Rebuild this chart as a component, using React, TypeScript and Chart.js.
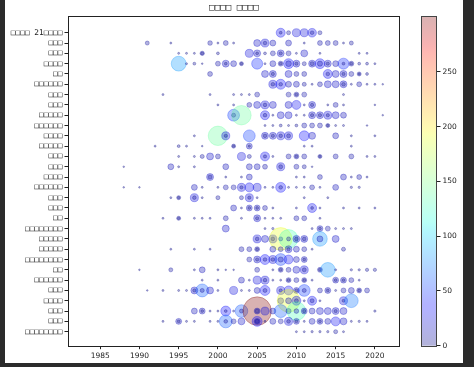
import { useEffect, useRef } from "react";
import { Chart, registerables } from "chart.js";
Chart.register(...registerables);

const chartTitle = "□□□□ □□□□";
const rowLabels = [
  "□□□□ 21□□□□", "□□□", "□□□", "□□□□", "□□", "□□□□□□", "□□□", "□□□", "□□□□□", "□□□□□□",
  "□□□□", "□□□□□", "□□□", "□□□", "□□□□", "□□□□□□", "□□□", "□□□", "□□", "□□□□□□□□",
  "□□□□□", "□□□□□", "□□□□□□□□", "□□", "□□□□□□", "□□□", "□□□□", "□□□", "□□□", "□□□□□□□□",
];
const xTickYears = [1985, 1990, 1995, 2000, 2005, 2010, 2015, 2020];
const colorbarTicks = [0, 50, 100, 150, 200, 250];
const colorMax = 301;

// [year, value] per row (top to bottom)
const row00 = [[2008, 30], [2008, 3], [2009, 6], [2010, 24], [2011, 24], [2012, 28], [2012, 5], [2013, 6]];
const row01 = [[1991, 6], [1994, 1.5], [1999, 8], [2000, 1.5], [2001, 9], [2002, 1.5], [2005, 18], [2006, 24], [2006, 5], [2007, 13], [2009, 13], [2011, 1.5], [2013, 9], [2014, 9], [2015, 9], [2016, 1.5], [2017, 6]];
const row02 = [[1995, 1.5], [1996, 1.5], [1997, 1.5], [1998, 7], [1998, 3], [2000, 3], [2004, 24], [2005, 18], [2005, 3], [2006, 3], [2007, 9], [2008, 18], [2008, 4], [2009, 9], [2010, 1.5], [2011, 18], [2013, 1.5], [2018, 1.5], [2019, 1.5]];
const row03 = [[1995, 82], [1996, 1.5], [1997, 3], [1998, 1], [2000, 9], [2001, 18], [2001, 3], [2002, 13], [2003, 6], [2003, 2], [2005, 45], [2006, 1.5], [2007, 13], [2008, 9], [2008, 3], [2009, 37], [2009, 12], [2010, 18], [2010, 4], [2011, 6], [2012, 18], [2012, 6], [2013, 37], [2013, 10], [2014, 18], [2014, 4], [2015, 13], [2016, 45], [2016, 3], [2017, 9], [2017, 3], [2018, 3], [2019, 3], [2020, 1.5]];
const row04 = [[1999, 9], [2006, 18], [2007, 18], [2007, 4], [2009, 18], [2010, 9], [2011, 9], [2014, 30], [2014, 5], [2015, 18], [2016, 18], [2016, 4], [2017, 9], [2018, 6], [2018, 2], [2019, 3]];
const row05 = [[2007, 24], [2007, 5], [2008, 37], [2008, 5], [2009, 13], [2010, 13], [2011, 6], [2012, 1.5], [2013, 9], [2014, 18], [2015, 18], [2016, 18], [2016, 5], [2017, 1.5], [2018, 9], [2019, 1.5], [2020, 1.5], [2021, 1]];
const row06 = [[1993, 1.5], [1999, 1.5], [2002, 1.5], [2003, 1.5], [2004, 1.5], [2005, 9], [2009, 9], [2010, 9], [2010, 3], [2011, 9], [2016, 1.5]];
const row07 = [[2000, 1.5], [2002, 1.5], [2004, 9], [2005, 18], [2006, 24], [2006, 5], [2007, 18], [2009, 18], [2010, 30], [2011, 1.5], [2012, 18], [2012, 4], [2014, 1.5], [2015, 9], [2016, 1.5], [2020, 1]];
const row08 = [[2002, 52], [2002, 6], [2003, 140], [2006, 30], [2006, 5], [2007, 1.5], [2008, 18], [2009, 18], [2010, 1.5], [2011, 1.5], [2012, 18], [2012, 4], [2013, 18], [2013, 4], [2014, 24], [2014, 4], [2015, 18], [2016, 13], [2021, 1]];
const row09 = [[2006, 1.5], [2007, 1.5], [2008, 3], [2009, 1.5], [2010, 3], [2011, 9], [2012, 9], [2013, 9], [2014, 6], [2014, 2], [2015, 1.5], [2016, 1.5], [2019, 1]];
const row10 = [[1997, 1.5], [2000, 140], [2001, 24], [2001, 4], [2004, 52], [2006, 18], [2006, 5], [2007, 18], [2007, 4], [2008, 24], [2008, 5], [2009, 24], [2009, 6], [2011, 37], [2012, 18], [2015, 13], [2017, 1.5], [2020, 1.5]];
const row11 = [[1992, 1.5], [1995, 3], [1996, 1.5], [1998, 1], [2002, 6], [2002, 2], [2004, 13], [2004, 2], [2011, 1.5], [2012, 1.5], [2017, 1.5]];
const row12 = [[1995, 1.5], [1997, 1.5], [1998, 6], [1999, 18], [2000, 9], [2003, 24], [2004, 6], [2006, 30], [2006, 4], [2007, 1.5], [2009, 9], [2010, 9], [2010, 3], [2011, 9], [2013, 6], [2013, 2], [2015, 9], [2017, 9], [2019, 1.5], [2020, 1.5]];
const row13 = [[1988, 1], [1994, 13], [1995, 1.5], [1997, 1.5], [2001, 13], [2004, 13], [2005, 13], [2006, 9], [2008, 24], [2008, 6], [2010, 9], [2011, 6], [2012, 1]];
const row14 = [[1999, 18], [1999, 6], [2001, 1.5], [2003, 1.5], [2004, 13], [2010, 1.5], [2011, 1.5], [2013, 9], [2016, 13], [2017, 1.5], [2018, 9], [2019, 1.5]];
const row15 = [[1988, 1], [1990, 1], [1997, 13], [1998, 1.5], [2000, 1.5], [2001, 9], [2002, 9], [2003, 24], [2003, 4], [2004, 30], [2005, 24], [2006, 1.5], [2007, 1.5], [2008, 37], [2008, 5], [2009, 1.5], [2010, 1.5], [2011, 1.5], [2012, 9], [2013, 1.5], [2015, 13], [2017, 2], [2018, 2]];
const row16 = [[1994, 1.5], [1995, 6], [1995, 2], [1997, 24], [1997, 5], [1998, 1.5], [2000, 6], [2003, 6], [2004, 24], [2004, 4], [2005, 1.5], [2011, 1.5], [2014, 1.5]];
const row17 = [[2002, 13], [2003, 1.5], [2004, 13], [2004, 3], [2005, 13], [2005, 3], [2006, 9], [2007, 1.5], [2010, 1.5], [2012, 30], [2012, 3], [2013, 1.5], [2016, 1.5], [2018, 1.5], [2020, 1.5]];
const row18 = [[1993, 1.5], [1995, 6], [1995, 2], [1997, 1.5], [1998, 1.5], [1999, 1.5], [2001, 9], [2003, 1.5], [2005, 18], [2005, 4], [2006, 1.5], [2007, 1.5], [2008, 1.5], [2010, 9], [2011, 9], [2013, 1.5]];
const row19 = [[2001, 18], [2006, 1.5], [2007, 2], [2012, 1.5], [2013, 13], [2013, 3], [2014, 9], [2015, 1.5], [2016, 1.5], [2017, 1.5]];
const row20 = [[2005, 24], [2005, 5], [2006, 18], [2007, 24], [2007, 5], [2008, 190], [2008, 6], [2009, 130], [2009, 6], [2010, 18], [2010, 5], [2011, 18], [2011, 5], [2013, 80], [2013, 13], [2015, 18]];
const row21 = [[1994, 1.5], [1997, 1.5], [1999, 1.5], [2003, 9], [2004, 9], [2005, 9], [2005, 3], [2007, 13], [2008, 9], [2009, 18], [2009, 4], [2010, 13], [2011, 9], [2012, 1.5], [2016, 6]];
const row22 = [[2004, 9], [2005, 18], [2005, 4], [2006, 37], [2006, 5], [2007, 24], [2007, 5], [2008, 52], [2008, 10], [2009, 30], [2010, 13], [2011, 13], [2011, 3]];
const row23 = [[1990, 1], [1994, 6], [1997, 1.5], [1998, 13], [2000, 1.5], [2001, 1], [2002, 1], [2005, 9], [2007, 1.5], [2008, 9], [2008, 3], [2009, 9], [2010, 18], [2011, 24], [2011, 6], [2013, 9], [2013, 3], [2014, 80], [2015, 1.5], [2017, 2], [2018, 2], [2019, 4], [2020, 4]];
const row24 = [[1998, 1.5], [2000, 1.5], [2003, 13], [2004, 1.5], [2005, 24], [2006, 24], [2006, 5], [2007, 1.5], [2008, 1.5], [2009, 9], [2009, 3], [2010, 9], [2011, 9], [2011, 3], [2012, 1.5], [2015, 13], [2015, 3], [2016, 13], [2016, 3], [2017, 9], [2018, 1.5]];
const row25 = [[1991, 1], [1993, 1.5], [1995, 1.5], [1996, 1.5], [1997, 18], [1997, 4], [1998, 62], [1998, 6], [1999, 18], [2000, 1.5], [2002, 24], [2003, 1.5], [2004, 1.5], [2005, 13], [2006, 37], [2006, 6], [2008, 24], [2008, 4], [2009, 30], [2010, 13], [2010, 4], [2011, 52], [2011, 6], [2013, 9], [2014, 13], [2014, 3], [2015, 1.5], [2016, 9], [2017, 13], [2018, 9], [2018, 3], [2019, 9]];
const row26 = [[2008, 13], [2009, 190], [2009, 13], [2010, 30], [2010, 6], [2011, 1.5], [2012, 30], [2012, 6], [2013, 1.5], [2016, 24], [2016, 3], [2017, 70]];
const row27 = [[1997, 13], [1998, 13], [1998, 3], [1999, 1.5], [2000, 1.5], [2001, 37], [2001, 3], [2002, 1.5], [2003, 60], [2003, 6], [2005, 301], [2005, 13], [2005, 6], [2006, 24], [2007, 13], [2008, 62], [2009, 10], [2010, 130], [2010, 8], [2011, 13], [2011, 4], [2012, 13], [2013, 18], [2014, 18], [2015, 18], [2015, 4], [2016, 18], [2020, 2]];
const row28 = [[1993, 1.5], [1995, 13], [1995, 3], [1996, 1.5], [1997, 1.5], [1999, 1.5], [2000, 1.5], [2001, 62], [2001, 5], [2002, 9], [2003, 18], [2005, 37], [2005, 13], [2005, 6], [2006, 1.5], [2007, 13], [2008, 9], [2009, 24], [2009, 5], [2010, 13], [2010, 3], [2011, 1.5], [2012, 13], [2013, 13], [2013, 3], [2014, 13], [2015, 30], [2016, 18], [2017, 1.5], [2018, 2], [2019, 1.5]];
const row29 = [[2010, 1.5], [2011, 1.5], [2012, 2], [2013, 2], [2014, 2], [2015, 6], [2016, 1.5]];

const rowPoints = [
  row00, row01, row02, row03, row04, row05, row06, row07, row08, row09,
  row10, row11, row12, row13, row14, row15, row16, row17, row18, row19,
  row20, row21, row22, row23, row24, row25, row26, row27, row28, row29,
];

const JET = {
  r: [[0, 0], [0.35, 0], [0.66, 1], [0.89, 1], [1, 0.5]],
  g: [[0, 0], [0.125, 0], [0.375, 1], [0.64, 1], [0.91, 0], [1, 0]],
  b: [[0, 0.5], [0.11, 1], [0.34, 1], [0.65, 0], [1, 0]],
};
function interp(seg: number[][], t: number) {
  for (let i = 1; i < seg.length; i++) {
    if (t <= seg[i][0]) {
      const [x0, y0] = seg[i - 1];
      const [x1, y1] = seg[i];
      return y0 + ((t - x0) / (x1 - x0)) * (y1 - y0);
    }
  }
  return seg[seg.length - 1][1];
}
function jet(v: number, a: number) {
  const t = Math.max(0, Math.min(1, v / colorMax));
  const r = Math.round(interp(JET.r, t) * 255);
  const g = Math.round(interp(JET.g, t) * 255);
  const b = Math.round(interp(JET.b, t) * 255);
  return `rgba(${r},${g},${b},${a})`;
}
const ALPHA = 0.3;
const sizeK = 0.82;

const tickFont = { family: "DejaVu Sans", size: 7.5 };
const boxFont = { family: "DejaVu Sans Mono", size: 7.8 };
const ink = "#222";

export default function App() {
  const mainRef = useRef<HTMLCanvasElement>(null);
  const cbRef = useRef<HTMLCanvasElement>(null);

  useEffect(() => {
    const points: any[] = [];
    rowPoints.forEach((row, i) => {
      row.forEach(([year, v]) => {
        points.push({ x: year, y: i, r: sizeK * Math.sqrt(v), v });
      });
    });

    const frame = {
      id: "frame",
      afterDraw(chart: any) {
        const { ctx, chartArea: a } = chart;
        ctx.save();
        ctx.strokeStyle = ink;
        ctx.lineWidth = 1;
        ctx.strokeRect(Math.round(a.left) + 0.5, Math.round(a.top) + 0.5, Math.round(a.right - a.left) - 1, Math.round(a.bottom - a.top));
        ctx.restore();
      },
    };

    const main = new Chart(mainRef.current!, {
      type: "bubble",
      data: {
        datasets: [
          {
            data: points,
            backgroundColor: (c: any) => jet(c.raw ? c.raw.v : 0, ALPHA),
            borderColor: (c: any) => jet(c.raw ? c.raw.v : 0, ALPHA),
            borderWidth: 1,
          } as any,
        ],
      },
      options: {
        animation: false,
        responsive: false,
        events: [],
        layout: { padding: { left: 0, right: 74, top: 0, bottom: 0 } },
        plugins: {
          legend: { display: false },
          tooltip: { enabled: false },
          title: {
            display: true,
            text: chartTitle,
            fullSize: false,
            color: "#111",
            font: { family: "DejaVu Sans Mono", size: 9.2, weight: "normal", lineHeight: 1.2 },
            padding: { top: 2.5, bottom: 2.5 },
          },
        },
        scales: {
          x: {
            type: "linear",
            min: 1980.9,
            max: 2023.2,
            afterBuildTicks: (s: any) => {
              s.ticks = xTickYears.map((v) => ({ value: v }));
            },
            afterFit: (s: any) => {
              s.height = 21.3;
            },
            ticks: {
              callback: (v: any) => String(v),
              font: tickFont,
              color: ink,
              padding: 2,
              maxRotation: 0,
              autoSkip: false,
            },
            grid: { display: true, drawOnChartArea: false, drawTicks: true, tickLength: 3.5, color: ink, lineWidth: 1 },
            border: { display: false },
          },
          y: {
            type: "linear",
            reverse: true,
            min: -1.62,
            max: 30.36,
            afterBuildTicks: (s: any) => {
              s.ticks = rowLabels.map((_, i) => ({ value: i }));
            },
            afterFit: (s: any) => {
              s.width = 68;
            },
            ticks: {
              callback: (v: any) => rowLabels[v] ?? "",
              font: boxFont,
              color: ink,
              padding: 2,
              autoSkip: false,
            },
            grid: { display: true, drawOnChartArea: false, drawTicks: true, tickLength: 3.5, color: ink, lineWidth: 1 },
            border: { display: false },
          },
        },
      } as any,
      plugins: [frame],
    });

    const gradientPlugin = {
      id: "cbGradient",
      beforeDatasetsDraw(chart: any) {
        const { ctx, chartArea: a } = chart;
        ctx.save();
        ctx.fillStyle = "#fff";
        ctx.fillRect(a.left, a.top, a.right - a.left, a.bottom - a.top);
        const g = ctx.createLinearGradient(0, a.bottom, 0, a.top);
        const n = 64;
        for (let i = 0; i <= n; i++) {
          g.addColorStop(i / n, jet((i / n) * colorMax, ALPHA));
        }
        ctx.fillStyle = g;
        ctx.fillRect(a.left, a.top, a.right - a.left, a.bottom - a.top);
        ctx.strokeStyle = "#444";
        ctx.lineWidth = 1;
        ctx.strokeRect(Math.round(a.left) + 0.5, Math.round(a.top) + 0.5, Math.round(a.right - a.left) - 1, Math.round(a.bottom - a.top));
        ctx.restore();
      },
    };

    const cb = new Chart(cbRef.current!, {
      type: "scatter",
      data: { datasets: [{ data: [] }] },
      options: {
        animation: false,
        responsive: false,
        events: [],
        layout: { padding: { left: 21, right: 0, top: 16, bottom: 21.3 } },
        plugins: { legend: { display: false }, tooltip: { enabled: false } },
        scales: {
          x: { display: false },
          y: {
            type: "linear",
            position: "right",
            min: 0,
            max: colorMax,
            afterBuildTicks: (s: any) => {
              s.ticks = colorbarTicks.map((v) => ({ value: v }));
            },
            afterFit: (s: any) => {
              s.width = 37;
            },
            ticks: { callback: (v: any) => String(v), font: tickFont, color: ink, padding: 2 },
            grid: { display: true, drawOnChartArea: false, drawTicks: true, tickLength: 3.5, color: ink, lineWidth: 1 },
            border: { display: false },
          },
        },
      } as any,
      plugins: [gradientPlugin],
    });

    return () => {
      main.destroy();
      cb.destroy();
    };
  }, []);

  return (
    <div style={{ position: "fixed", left: 0, top: 0, width: 474, height: 367, background: "#2b2b2b", overflow: "hidden" }}>
      <div style={{ position: "absolute", left: 5, top: 0, width: 458, height: 363, background: "#fff" }} />
      <canvas ref={mainRef} width={474} height={367} style={{ position: "absolute", left: 0, top: 0, width: 474, height: 367 }} />
      <canvas ref={cbRef} width={74} height={367} style={{ position: "absolute", left: 400, top: 0, width: 74, height: 367 }} />
    </div>
  );
}
